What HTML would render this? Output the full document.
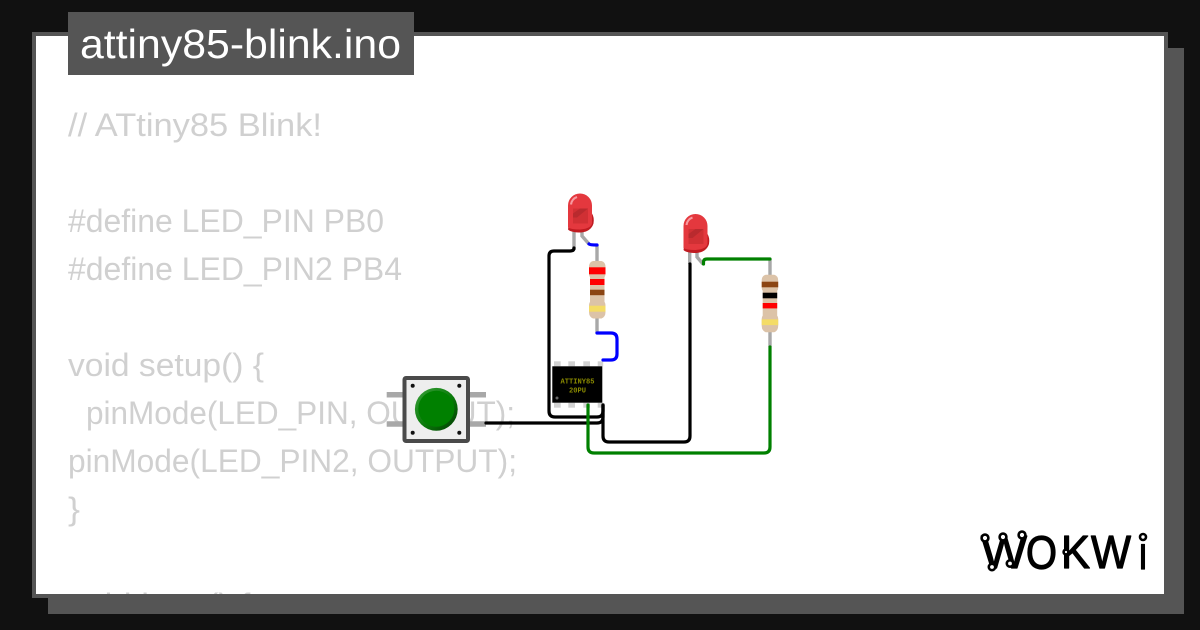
<!DOCTYPE html>
<html lang="en">
<head>
<meta charset="utf-8">
<title>attiny85-blink.ino</title>
<style>
html,body{margin:0;padding:0;background:#111;width:1200px;height:630px;overflow:hidden}
svg{display:block}
.code{font-family:"Liberation Sans",sans-serif;font-size:32px;fill:#d0d0d0}
.w{fill:none;stroke-linecap:round;stroke-linejoin:round;stroke-width:3.2}
.l{fill:none;stroke:#a8a8a8;stroke-width:3.4}
</style>
</head>
<body>
<svg width="1200" height="630" viewBox="0 0 1200 630" xmlns="http://www.w3.org/2000/svg">
<defs>
<clipPath id="card"><rect x="36" y="36" width="1128" height="558"/></clipPath>
<linearGradient id="btn" x1="0" y1="0" x2="1" y2="1">
  <stop offset="0" stop-color="#3aa03a"/>
  <stop offset=".55" stop-color="#0a7a0a"/>
  <stop offset="1" stop-color="#023802"/>
</linearGradient>
<g id="led">
  <path d="M1,30 L24,20 Q26.5,24 25.5,30 Q23,38 13,39 Q3,39 0,36 Z" fill="#c01c22"/>
  <path d="M0,34 V12 A12,12 0 0 1 24,12 V29 Q24,35 12,36 Q3,36 0,34 Z" fill="#e4383e"/>
  <path d="M5,15 H20 V30 H5 Z" fill="#d03034"/>
  <path d="M12,15 H20 L9,24 H5 V20 Z" fill="#b92a2e"/>
  <path d="M3,11 A9,9 0 0 1 9,3.5" fill="none" stroke="#f79aa0" stroke-width="2.2"/>
</g>
<g id="bodyR">
  <path d="M4,0 H12.5 Q16.5,1 16.5,6 V12 Q16.5,15 15.5,16 V41 Q16.5,42 16.5,45 V51 Q16.5,56 12.5,57.5 H4 Q0,56 0,51 V45 Q0,42 1,41 V16 Q0,15 0,12 V6 Q0,1 4,0 Z" fill="#dcc3a8"/>
</g>
</defs>
<rect width="1200" height="630" fill="#111"/>
<rect x="48" y="48" width="1136" height="566" fill="#555"/>
<rect x="32" y="32" width="1136" height="566" fill="#555"/>
<rect x="36" y="36" width="1128" height="558" fill="#fff"/>

<g class="code" clip-path="url(#card)">
  <text x="68" y="136" textLength="254" lengthAdjust="spacingAndGlyphs">// ATtiny85 Blink!</text>
  <text x="68" y="232" textLength="316" lengthAdjust="spacingAndGlyphs">#define LED_PIN PB0</text>
  <text x="68" y="280" textLength="334" lengthAdjust="spacingAndGlyphs">#define LED_PIN2 PB4</text>
  <text x="68" y="376" textLength="196" lengthAdjust="spacingAndGlyphs">void setup() {</text>
  <text x="86" y="424" textLength="429" lengthAdjust="spacingAndGlyphs">pinMode(LED_PIN, OUTPUT);</text>
  <text x="68" y="472" textLength="449" lengthAdjust="spacingAndGlyphs">pinMode(LED_PIN2, OUTPUT);</text>
  <text x="68" y="520" textLength="12" lengthAdjust="spacingAndGlyphs">}</text>
  <text x="68" y="616" textLength="183" lengthAdjust="spacingAndGlyphs">void loop() {</text>
</g>

<rect x="68" y="12" width="346" height="63" fill="#555"/>
<text x="80" y="58" font-family="'Liberation Sans',sans-serif" font-size="41" fill="#fff" textLength="321" lengthAdjust="spacingAndGlyphs">attiny85-blink.ino</text>

<!-- resistor 1 leads -->
<path class="l" d="M597,245 V262 M597,318 V333"/>
<!-- resistor 2 leads -->
<path class="l" d="M770,259 V276 M770,331 V347"/>
<!-- LED leads -->
<path class="l" d="M574,230 V250 M582,232 V236 L589,244"/>
<path class="l" d="M689.7,250 V264 M697,250 V257 L703,264"/>

<!-- resistor 1 -->
<use href="#bodyR" x="589" y="261"/>
<rect x="589" y="267.3" width="16.5" height="7" fill="#f00"/>
<rect x="590" y="279" width="14.5" height="6" fill="#f00"/>
<rect x="590" y="289.7" width="14.5" height="5.5" fill="#8b4513"/>
<rect x="589" y="305.7" width="16.5" height="6" fill="#f4dc66"/>

<!-- resistor 2 -->
<use href="#bodyR" x="761.7" y="274.7"/>
<rect x="761.7" y="281.7" width="16.5" height="5.6" fill="#8b4513"/>
<rect x="762.7" y="292.7" width="14.5" height="5.6" fill="#000"/>
<rect x="762.7" y="303" width="14.5" height="5.4" fill="#f00"/>
<rect x="761.7" y="319.3" width="16.5" height="5.8" fill="#f4dc66"/>

<!-- button -->
<path d="M386.7,394.8 H486 M386.7,424 H486" stroke="#a8a8a8" stroke-width="5.5" fill="none"/>
<rect x="404.5" y="378" width="63.5" height="63" rx="1.5" fill="#eee" stroke="#4a4a4a" stroke-width="4"/>
<circle cx="412.7" cy="385.7" r="2" fill="#111"/>
<circle cx="459.3" cy="385.7" r="2" fill="#111"/>
<circle cx="412.7" cy="432.7" r="2" fill="#111"/>
<circle cx="459.3" cy="432.7" r="2" fill="#111"/>
<circle cx="436.3" cy="409.3" r="21.4" fill="url(#btn)"/>
<circle cx="436.3" cy="408.7" r="18" fill="#008000"/>

<!-- chip -->
<g fill="#d2d2d2">
  <rect x="554" y="361.3" width="6.7" height="5"/>
  <rect x="568.3" y="361.3" width="6.7" height="5"/>
  <rect x="583.3" y="361.3" width="6.7" height="5"/>
  <rect x="597.7" y="361.3" width="5.5" height="5"/>
  <rect x="554" y="402.7" width="6.7" height="5"/>
  <rect x="568.3" y="402.7" width="6.7" height="5"/>
  <rect x="583.3" y="402.7" width="6.7" height="5"/>
  <rect x="597.7" y="402.7" width="5.5" height="5"/>
</g>
<rect x="552.3" y="366.3" width="50" height="36.4" fill="#000"/>
<circle cx="557" cy="398" r="1.5" fill="#666"/>
<g font-family="'Liberation Mono',monospace" font-weight="bold" font-size="7.5" fill="#8a8a00" text-anchor="middle">
  <text x="577.5" y="383.5" textLength="34" lengthAdjust="spacingAndGlyphs">ATTINY85</text>
  <text x="577.5" y="392.3" textLength="17" lengthAdjust="spacingAndGlyphs">20PU</text>
</g>

<!-- wires -->
<path class="w" stroke="#0000ff" d="M589,244 Q590,245 597,245"/>
<path class="w" stroke="#0000ff" d="M597,333 H611 Q617,333 617,339 V354 Q617,360 611,360 H603"/>
<path class="w" stroke="#000" d="M574,248 Q574,251 570,251 H554 Q549,251 549,256 V411 Q549,417 555,417 H597 Q603,417 603,411 V405"/>
<path class="w" stroke="#000" d="M486,423 H597 Q603,423 603,417 V405"/>
<path class="w" stroke="#000" d="M603,405 V436 Q603,442 609,442 H684 Q690,442 690,436 V264"/>
<path class="w" stroke="#008000" d="M588,405 V447 Q588,453 594,453 H764 Q770,453 770,447 V347"/>
<path class="w" stroke="#008000" d="M703.5,264 V262 Q703.5,259 707,259 H770"/>

<!-- LEDs -->
<use href="#led" x="568" y="193.5"/>
<use href="#led" x="683.5" y="214"/>

<!-- logo -->
<g font-family="'Liberation Sans',sans-serif" font-size="46" fill="#000" stroke="#000" stroke-width="1.2" stroke-linejoin="round">
  <text x="981" y="568" textLength="46" lengthAdjust="spacingAndGlyphs">W</text>
  <text x="1026" y="568.5" textLength="31" lengthAdjust="spacingAndGlyphs">O</text>
  <text x="1061" y="568" textLength="29" lengthAdjust="spacingAndGlyphs">K</text>
  <text x="1091" y="568" textLength="40" lengthAdjust="spacingAndGlyphs">W</text>
  <text x="1139" y="569" textLength="8" lengthAdjust="spacingAndGlyphs">i</text>
</g>
<g fill="#fff" stroke="#000" stroke-width="2.6">
  <circle cx="985" cy="538" r="3.4"/>
  <circle cx="1003" cy="537" r="3.4"/>
  <circle cx="1022" cy="535" r="3.4"/>
  <circle cx="992" cy="567" r="3.2"/>
  <circle cx="1010" cy="563.5" r="3.2"/>
  <circle cx="1066" cy="552" r="2.4"/>
  <circle cx="1143" cy="537" r="3"/>
</g>
</svg>
</body>
</html>
